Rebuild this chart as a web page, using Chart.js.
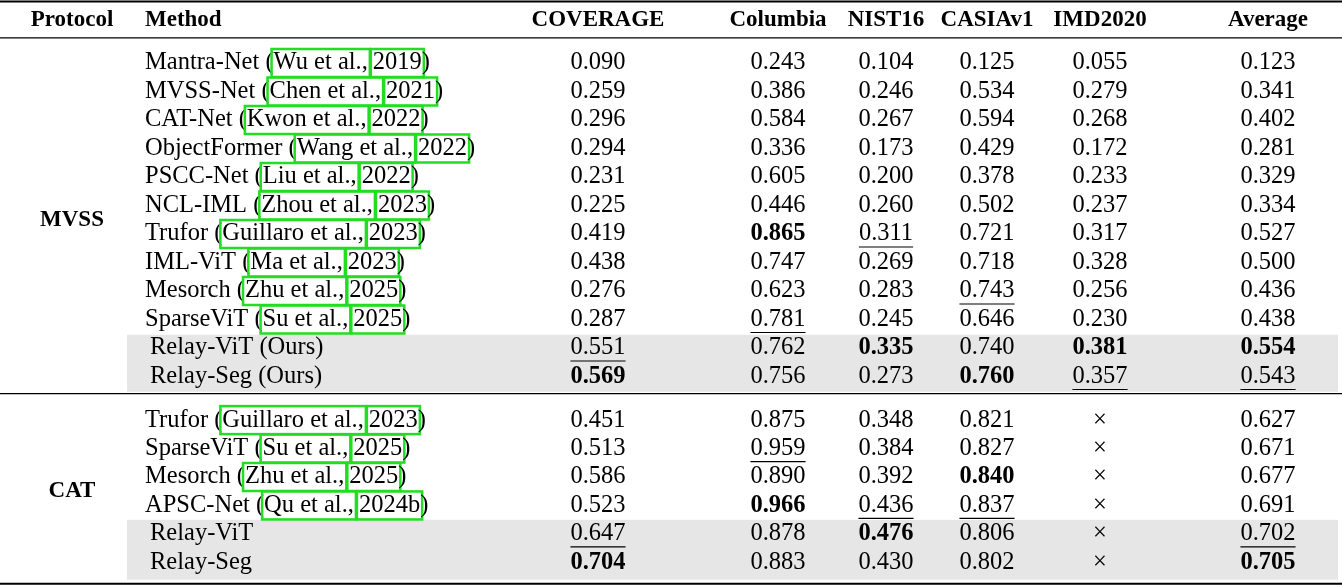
<!DOCTYPE html>
<html><head><meta charset="utf-8">
<script src="https://cdn.jsdelivr.net/npm/chart.js@4.4.0/dist/chart.umd.min.js"></script>
<style>html,body{margin:0;padding:0;background:#fff}#wrap{width:1342px;height:586px}</style>
</head><body><div id="wrap"><canvas id="c"></canvas></div>
<script>
// table data
const headers = ['Protocol', 'Method', 'COVERAGE', 'Columbia', 'NIST16', 'CASIAv1', 'IMD2020', 'Average'];
const mvssMethods = [
    ['Mantra-Net', 'Wu et al.,', '2019'], ['MVSS-Net', 'Chen et al.,', '2021'], ['CAT-Net', 'Kwon et al.,', '2022'],
    ['ObjectFormer', 'Wang et al.,', '2022'], ['PSCC-Net', 'Liu et al.,', '2022'], ['NCL-IML', 'Zhou et al.,', '2023'],
    ['Trufor', 'Guillaro et al.,', '2023'], ['IML-ViT', 'Ma et al.,', '2023'], ['Mesorch', 'Zhu et al.,', '2025'],
    ['SparseViT', 'Su et al.,', '2025'], ['Relay-ViT (Ours)'], ['Relay-Seg (Ours)']
];
const mvssValues = [
    ['0.090', '0.243', '0.104', '0.125', '0.055', '0.123'],
    ['0.259', '0.386', '0.246', '0.534', '0.279', '0.341'],
    ['0.296', '0.584', '0.267', '0.594', '0.268', '0.402'],
    ['0.294', '0.336', '0.173', '0.429', '0.172', '0.281'],
    ['0.231', '0.605', '0.200', '0.378', '0.233', '0.329'],
    ['0.225', '0.446', '0.260', '0.502', '0.237', '0.334'],
    ['0.419', '*0.865', '_0.311', '0.721', '0.317', '0.527'],
    ['0.438', '0.747', '0.269', '0.718', '0.328', '0.500'],
    ['0.276', '0.623', '0.283', '_0.743', '0.256', '0.436'],
    ['0.287', '_0.781', '0.245', '0.646', '0.230', '0.438'],
    ['_0.551', '0.762', '*0.335', '0.740', '*0.381', '*0.554'],
    ['*0.569', '0.756', '0.273', '*0.760', '_0.357', '_0.543']
];
const catMethods = [
    ['Trufor', 'Guillaro et al.,', '2023'], ['SparseViT', 'Su et al.,', '2025'], ['Mesorch', 'Zhu et al.,', '2025'],
    ['APSC-Net', 'Qu et al.,', '2024b'], ['Relay-ViT'], ['Relay-Seg']
];
const catValues = [
    ['0.451', '0.875', '0.348', '0.821', '×', '0.627'],
    ['0.513', '_0.959', '0.384', '0.827', '×', '0.671'],
    ['0.586', '0.890', '0.392', '*0.840', '×', '0.677'],
    ['0.523', '*0.966', '_0.436', '_0.837', '×', '0.691'],
    ['_0.647', '0.878', '*0.476', '0.806', '×', '_0.702'],
    ['*0.704', '0.883', '0.430', '0.802', '×', '*0.705']
];

// layout
const colX = [72, 145, 598, 778, 886, 987, 1100, 1268];
const rowPitch = 28.5, firstRowPx = 63;
const catStart = 12.53;
const FONT = '"Liberation Serif", "DejaVu Serif", serif';
const FS = '24.5px ';

const rows = [];
mvssMethods.forEach((m, i) => rows.push({ y: i, method: m, vals: mvssValues[i], shade: i >= 10 }));
catMethods.forEach((m, i) => rows.push({ y: catStart + i * 0.998, method: m, vals: catValues[i], shade: i >= 4 }));

const tablePlugin = {
    id: 'table',
    afterDraw(chart) {
        const ctx = chart.ctx, xs = chart.scales.x, ys = chart.scales.y;
        const X = v => xs.getPixelForValue(v), Y = v => ys.getPixelForValue(v);
        ctx.save();
        // shaded rows
        ctx.fillStyle = '#e6e6e6';
        ctx.fillRect(X(127), Y(9.5) + 1, X(1338) - X(127), Y(11.5) - Y(9.5));
        ctx.fillRect(X(127), Y(catStart + 3.5), X(1338) - X(127), Y(catStart + 5.6) - Y(catStart + 3.5));
        ctx.fillStyle = '#000';
        // rules
        ctx.strokeStyle = '#000';
        const rule = (yv, w) => { ctx.lineWidth = w; ctx.beginPath(); ctx.moveTo(X(0), Y(yv)); ctx.lineTo(X(1342), Y(yv)); ctx.stroke(); };
        rule(-2.16, 2); rule(-0.88, 1.2); rule(11.6, 1.2); rule(18.27, 2);
        ctx.textBaseline = 'middle';
        // header
        ctx.font = 'bold 23px ' + FONT;
        headers.forEach((h, i) => {
            ctx.textAlign = i === 1 ? 'left' : 'center';
            ctx.fillText(h, X(colX[i]), Y(-1.51));
        });
        ctx.textAlign = 'center';
        ctx.fillText('MVSS', X(colX[0]), Y(5.5));
        ctx.fillText('CAT', X(colX[0]), Y(catStart + 2.5));
        rows.forEach(r => {
            const py = Y(r.y);
            ctx.font = FS + FONT;
            ctx.textAlign = 'left';
            ctx.fillStyle = '#000';
            let x = X(r.shade ? 150 : colX[1]);
            const m = r.method;
            if (m.length === 1) {
                ctx.fillText(m[0], x, py);
            } else {
                const seg = (t, box) => {
                    const w = ctx.measureText(t).width;
                    ctx.fillStyle = '#000';
                    ctx.fillText(t, x, py);
                    if (box) {
                        ctx.strokeStyle = '#22dd22'; ctx.lineWidth = 2.5;
                        ctx.strokeRect(x - 2, py - 14, w + 4, 28);
                    }
                    x += w;
                };
                seg(m[0] + ' (', false); seg(m[1], true); x += 5; seg(m[2], true); seg(')', false);
            }
            r.vals.forEach((v, j) => {
                let t = v, bold = false, under = false;
                if (t[0] === '*') { bold = true; t = t.slice(1); }
                if (t[0] === '_') { under = true; t = t.slice(1); }
                ctx.font = (bold ? 'bold ' : '') + FS + FONT;
                ctx.textAlign = 'center';
                ctx.fillStyle = '#000';
                const cx = X(colX[j + 2]);
                ctx.fillText(t, cx, py);
                if (under) {
                    const w = ctx.measureText(t).width;
                    ctx.lineWidth = 1.2; ctx.strokeStyle = '#000';
                    ctx.beginPath(); ctx.moveTo(cx - w / 2, py + 13); ctx.lineTo(cx + w / 2, py + 13); ctx.stroke();
                }
            });
        });
        ctx.restore();
    }
};

new Chart(document.getElementById('c'), {
    type: 'scatter',
    data: { datasets: [{ data: rows.map(r => ({ x: 598, y: r.y })), pointRadius: 0 }] },
    options: {
        responsive: true, maintainAspectRatio: false, animation: false,
        layout: { padding: 0 },
        plugins: { legend: { display: false }, tooltip: { enabled: false } },
        scales: {
            x: { type: 'linear', min: 0, max: 1342, display: false },
            y: { type: 'linear', min: -firstRowPx / rowPitch, max: (586 - firstRowPx) / rowPitch, reverse: true, display: false }
        }
    },
    plugins: [tablePlugin]
});
</script></body></html>
